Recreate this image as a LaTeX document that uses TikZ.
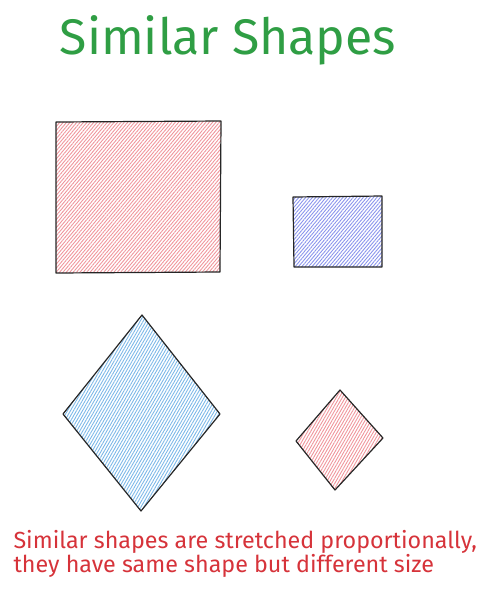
\documentclass[tikz,border=0pt]{standalone}
\usepackage{fontspec}
\setmainfont{Fira Sans}
\usetikzlibrary{patterns.meta}
\definecolor{titlegreen}{HTML}{2F9E44}
\definecolor{notered}{HTML}{D6333A}
\definecolor{hatchpink}{HTML}{F0959C}
\definecolor{hatchblue}{HTML}{7CB8E8}
\definecolor{hatchviolet}{HTML}{8A94EC}
\tikzset{
  outline/.style={draw=black!85,line width=1.2pt,line join=round},
  hatch/.style={pattern={Lines[angle=#1,distance=2.6pt,line width=0.9pt]}},
}
\begin{document}
\begin{tikzpicture}[x=1pt,y=-1pt]
\useasboundingbox (0,0) rectangle (483,590);
\node[text=titlegreen,font=\fontsize{50}{60}\selectfont] (title) at (228,40) {Similar Shapes}; %Titre
\draw[outline,hatch=50,pattern color=hatchpink] (56,122) -- (221,121) -- (220,272) -- (56,273) -- cycle; %Grand carre
\draw[outline,hatch=50,pattern color=hatchviolet] (293,197) -- (382,196) -- (382,267) -- (294,267) -- cycle; %Petit rectangle
\draw[outline,hatch=60,pattern color=hatchblue] (142,315) -- (220,414) -- (141,511) -- (63,414) -- cycle; %Grand losange
\draw[outline,hatch=60,pattern color=hatchpink] (340,390) -- (383,438) -- (335,490) -- (296,441) -- cycle; %Petit losange
\node[text=notered,anchor=base west,font=\fontsize{23.3}{28}\selectfont] (note1) at (10,548) {Similar shapes are stretched proportionally,};
\node[text=notered,anchor=base west,font=\fontsize{23.3}{28}\selectfont] (note2) at (10,572) {they have same shape but different size};
\end{tikzpicture}
\end{document}
